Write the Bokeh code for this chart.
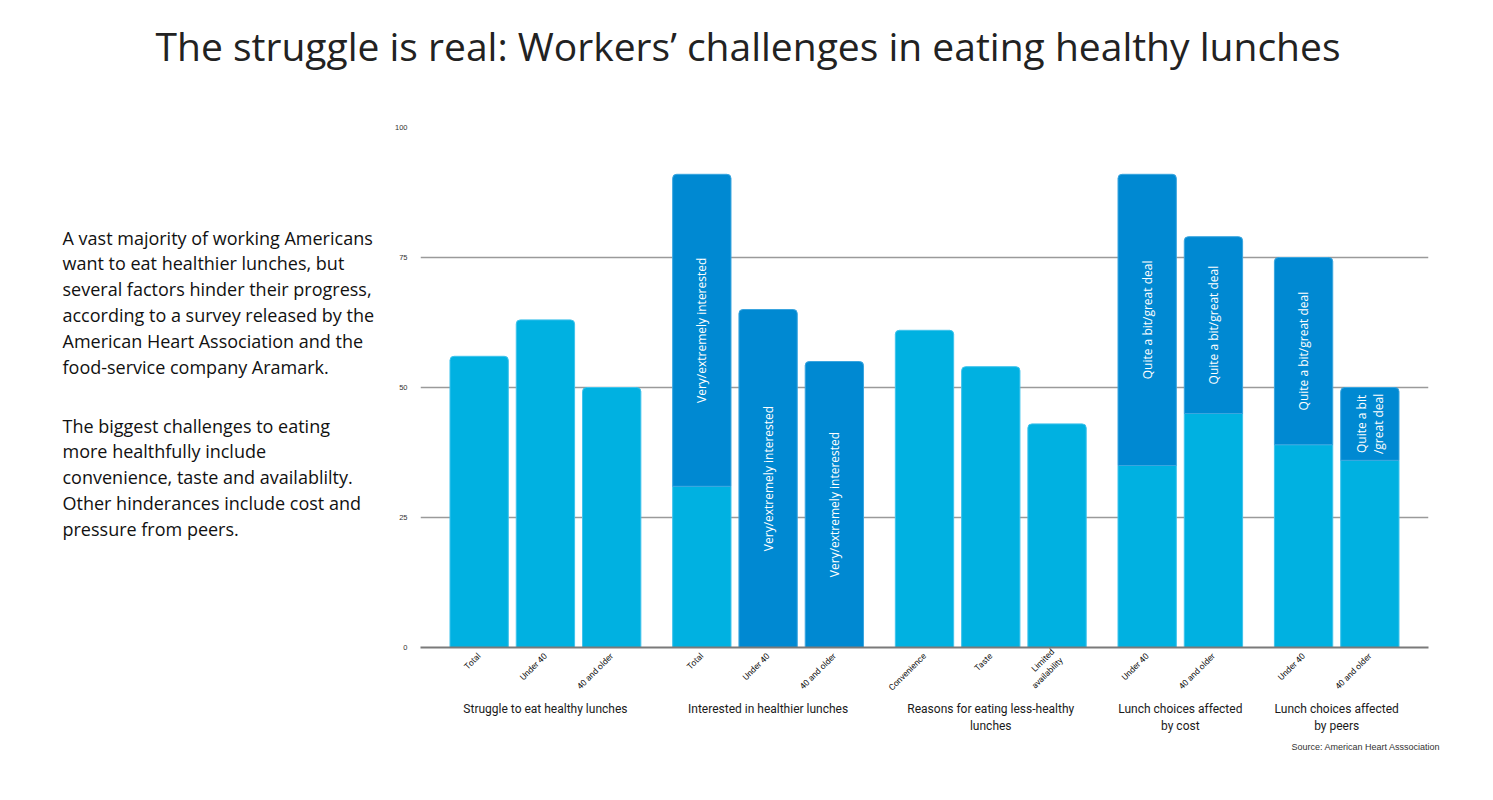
import math
from bokeh.plotting import figure
from bokeh.layouts import column, row
from bokeh.models import FactorRange, Range1d, ColumnDataSource, FixedTicker, Title
from bokeh.embed import file_html
from bokeh.resources import INLINE
from bokeh.core.properties import value

# ---------------- data ----------------
group_names = [
    "Struggle to eat healthy lunches",
    "Interested in healthier lunches",
    "Reasons for eating less-healthy\nlunches",
    "Lunch choices affected\nby cost",
    "Lunch choices affected\nby peers",
]
bar_group = [0, 0, 0, 1, 1, 1, 2, 2, 2, 3, 3, 4, 4]
bar_labels = ["Total", "Under 40", "40 and older",
              "Total", "Under 40", "40 and older",
              "Convenience", "Taste", "Limited\navailability",
              "Under 40", "40 and older",
              "Under 40", "40 and older"]
# total height of each bar (percent)
total_values = [56, 63, 50, 91, 65, 55, 61, 54, 43, 91, 79, 75, 50]
# light-blue (lower) part of each bar
base_values = [56, 63, 50, 31, 0, 0, 61, 54, 43, 35, 45, 39, 36]
# text written in the dark (upper) part
inner_texts = ["", "", "", "Very/extremely interested", "Very/extremely interested",
               "Very/extremely interested", "", "", "", "Quite a bit/great deal",
               "Quite a bit/great deal", "Quite a bit/great deal", "Quite a bit\n/great deal"]
y_ticks = [0, 25, 50, 75, 100]

title_text = "The struggle is real: Workers\u2019 challenges in eating healthy lunches"
para1 = ("A vast majority of working Americans\nwant to eat healthier lunches, but\n"
         "several factors hinder their progress,\naccording to a survey released by the\n"
         "American Heart Association and the\nfood-service company Aramark.")
para2 = ("The biggest challenges to eating\nmore healthfully include\n"
         "convenience, taste and availablilty.\nOther hinderances include cost and\n"
         "pressure from peers.")
source_text = "Source: American Heart Asssociation"

# ---------------- styling ----------------
LIGHT = "#00b1e1"
DARK = "#0089d2"
W, H = 1493, 800
TOP_H = 100          # height of the title strip
LEFT_W = 388         # width of the text column
BODY_H = H - TOP_H
FRAME_TOP, FRAME_BOTTOM, FRAME_LEFT, FRAME_RIGHT = 127, 647, 420, 1428   # canvas pixels

# title strip
tfig = figure(width=W, height=TOP_H, x_range=Range1d(0, W), y_range=Range1d(0, TOP_H),
              output_backend="svg", toolbar_location=None, min_border=0)
tfig.text(x=[W / 2 + 1], y=[TOP_H - 45], text=[title_text], text_align="center",
          text_baseline="middle", text_font=value("Open Sans"), text_font_size="39px",
          text_color="#222222")

# left text column (frame aligned with the chart frame; y measured from canvas bottom)
lfig = figure(width=LEFT_W, height=BODY_H, x_range=Range1d(0, LEFT_W),
              y_range=Range1d(H - FRAME_BOTTOM, H - FRAME_TOP),
              output_backend="svg", toolbar_location=None, min_border_left=0, min_border_right=0,
              min_border_top=FRAME_TOP - TOP_H, min_border_bottom=H - FRAME_BOTTOM)
lfig.text(x=[62, 62], y=[H - 225, H - 413], text=[para1, para2],
          text_align="left", text_baseline="top", text_font=value("Open Sans"),
          text_font_size="18px", text_color="#111111", text_line_height=1.08)

for f in (tfig, lfig):
    f.axis.visible = False
    f.grid.grid_line_color = None
    f.outline_line_color = None
    f.background_fill_color = "white"
    f.border_fill_color = "white"

# main chart
factors = [(group_names[g], lab) for g, lab in zip(bar_group, bar_labels)]

p = figure(width=W - LEFT_W, height=BODY_H,
           x_range=FactorRange(*factors, group_padding=0.36, range_padding=0.385,
                               range_padding_units="absolute"),
           y_range=Range1d(0, 100), output_backend="svg", toolbar_location=None,
           min_border_left=FRAME_LEFT - LEFT_W, min_border_right=W - FRAME_RIGHT,
           min_border_top=FRAME_TOP - TOP_H, min_border_bottom=H - FRAME_BOTTOM)
p.outline_line_color = None
p.background_fill_color = "white"
p.border_fill_color = "white"

full = [i for i in range(len(factors)) if base_values[i] >= total_values[i]]
split = [i for i in range(len(factors)) if base_values[i] < total_values[i]]

src_full = ColumnDataSource(dict(x=[factors[i] for i in full], top=[total_values[i] for i in full]))
src_base = ColumnDataSource(dict(x=[factors[i] for i in split if base_values[i] > 0],
                                 top=[base_values[i] for i in split if base_values[i] > 0]))
src_dark = ColumnDataSource(dict(x=[factors[i] for i in split], bottom=[base_values[i] for i in split],
                                 top=[total_values[i] for i in split],
                                 mid=[(base_values[i] + total_values[i]) / 2 for i in split],
                                 txt=[inner_texts[i] for i in split]))

p.vbar(x="x", top="top", bottom=0, width=0.88, source=src_full, fill_color=LIGHT,
       line_color="#3fc3ec", line_width=1, border_radius=(4, 4, 0, 0))
p.vbar(x="x", top="top", bottom=0, width=0.88, source=src_base, fill_color=LIGHT,
       line_color="#3fc3ec", line_width=1)
p.vbar(x="x", top="top", bottom="bottom", width=0.88, source=src_dark, fill_color=DARK,
       line_color="#3aa5df", line_width=1, border_radius=(4, 4, 0, 0))
p.text(x="x", y="mid", text="txt", source=src_dark, angle=math.pi / 2, text_color="white",
       text_font=value("Open Sans"), text_font_size="12px", text_align="center",
       text_baseline="middle", text_line_height=1.0)

# grid
p.xgrid.grid_line_color = None
p.ygrid.ticker = FixedTicker(ticks=y_ticks)
p.ygrid.grid_line_color = "#9a9a9a"
p.ygrid.grid_line_width = 1.6

# y axis
p.yaxis.ticker = FixedTicker(ticks=y_ticks)
p.yaxis.axis_line_color = None
p.yaxis.major_tick_line_color = None
p.yaxis.minor_tick_line_color = None
p.yaxis.major_label_text_font_size = "7.5px"
p.yaxis.major_label_text_color = "#333333"
p.yaxis.major_label_text_font = "Liberation Sans"
p.yaxis.major_label_standoff = 7

# x axis
xa = p.xaxis[0]
xa.axis_line_color = "#7a7a7a"
xa.axis_line_width = 2
xa.major_tick_line_color = None
xa.minor_tick_line_color = None
xa.major_label_orientation = math.pi / 4
xa.major_label_text_font_size = "8.5px"
xa.major_label_text_font = "Roboto"
xa.major_label_text_color = "#111111"
xa.major_label_standoff = 1
xa.group_text_font_size = "12px"
xa.group_text_font = "Roboto"
xa.group_text_color = "#1a1a1a"
xa.group_text_font_style = "normal"
xa.separator_line_color = None

# source note
p.add_layout(Title(text=source_text, align="right", text_font="Liberation Sans",
                   text_font_size="9px", text_font_style="normal", text_color="#333333",
                   standoff=8, offset=-12), "below")

layout = column(tfig, row(lfig, p))
open("out.html", "w").write(file_html(layout, INLINE))
